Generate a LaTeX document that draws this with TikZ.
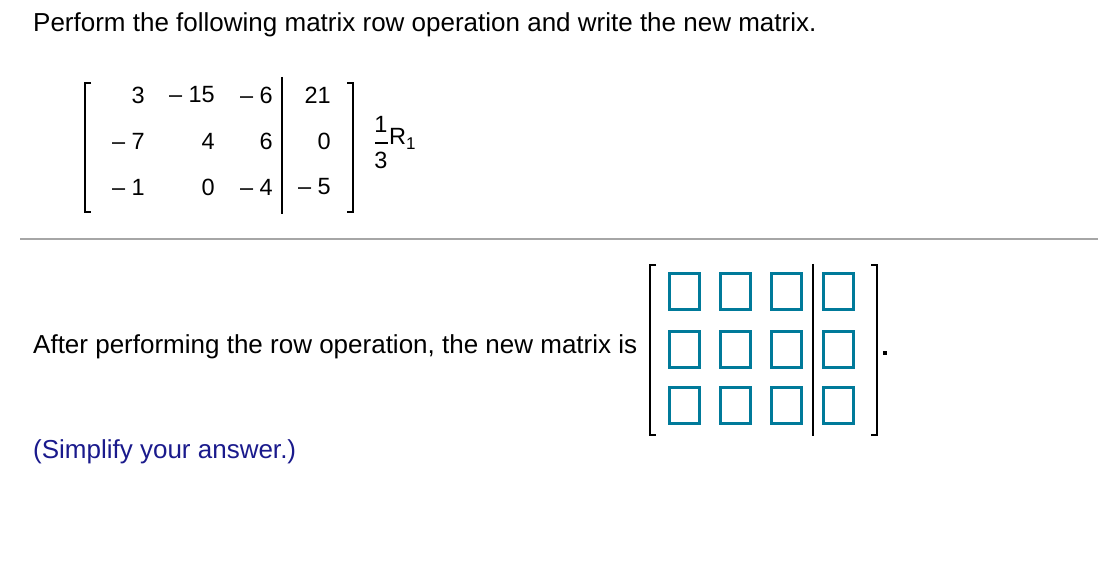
\documentclass[tikz,border=0pt]{standalone}
\usepackage{fontspec}
\setmainfont{Liberation Sans}
\definecolor{boxc}{HTML}{007A9A}
\definecolor{navy}{HTML}{1A1A8C}
\begin{document}
\begin{tikzpicture}[x=1pt,y=-1pt,
  txt/.style={anchor=west,inner sep=0pt,font=\fontsize{26}{30}\selectfont},
  ent/.style={anchor=east,inner sep=0pt,font=\fontsize{23.5}{27}\selectfont},
  ans/.style={draw=boxc,line width=2.6pt,minimum width=30pt,minimum height=36pt,inner sep=0pt},
  brk/.style={line width=2.2pt}]
\useasboundingbox (0,0) rectangle (1098,580);
\node[txt] (title) at (33,25) {Perform the following matrix row operation and write the new matrix.};
% matrix
\draw[brk] (91,83) -- (85,83) -- (85,212) -- (91,212);
\draw[brk] (347,83) -- (353,83) -- (353,212) -- (347,212);
\draw[line width=1.8pt] (282,77) -- (282,214);
\node[ent] at (145,95) {3};
\node[ent] at (215,95) {– 15};
\node[ent] at (273,95) {– 6};
\node[ent] at (331,95) {21};
\node[ent] at (145,141) {– 7};
\node[ent] at (215,141) {4};
\node[ent] at (273,141) {6};
\node[ent] at (331,141) {0};
\node[ent] at (145,187) {– 1};
\node[ent] at (215,187) {0};
\node[ent] at (273,187) {– 4};
\node[ent] at (331,187) {– 5};
\node[inner sep=0pt,font=\fontsize{23.5}{27}\selectfont] (num) at (381,124) {1};
\node[inner sep=0pt,font=\fontsize{23.5}{27}\selectfont] (den) at (381,160) {3};
\draw[line width=1.2pt] (375,143) -- (388,143);
\node[anchor=west,inner sep=0pt,font=\fontsize{23.5}{27}\selectfont] (rop) at (389,139) {R\raisebox{-0.45ex}{\fontsize{17}{19}\selectfont 1}};
% separator
\draw[gray!70,line width=1.2pt] (20,239) -- (1098,239);
\node[txt] (after) at (33,347) {After performing the row operation, the new matrix is};
\draw[brk] (656,265) -- (650,265) -- (650,435) -- (656,435);
\draw[brk] (871,265) -- (877,265) -- (877,435) -- (871,435);
\draw[line width=2.2pt] (813,264) -- (813,436);
\foreach \x in {684.5,735.5,786.5,838.5}
  \foreach \y in {291.5,349.5,405.5}
    \node[ans] at (\x,\y) {};
\fill (883,351) rectangle (887,355);
\node[txt,text=navy] (simp) at (33,452) {(Simplify your answer.)};
\end{tikzpicture}
\end{document}
